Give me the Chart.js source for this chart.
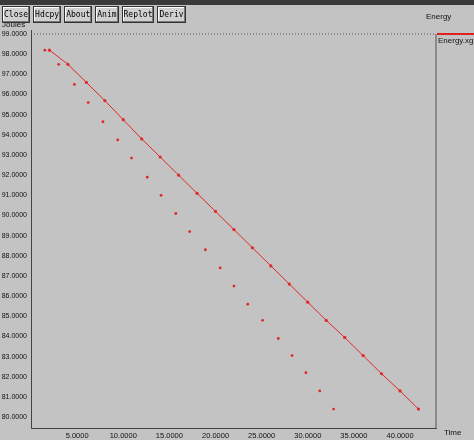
<!DOCTYPE html>
<html><head><meta charset="utf-8">
<script src="https://cdn.jsdelivr.net/npm/chart.js@4"></script>
<style>
body{margin:0;width:474px;height:440px;background:#c3c3c3;overflow:hidden;font-family:"Liberation Sans",sans-serif;position:relative}
#top{position:absolute;left:0;top:0;width:474px;height:5px;background:#3a3a3a}
#btns{position:absolute;left:2px;top:6px;display:flex;gap:3px}
#btns div{border:1px solid #333;background:#d0d0d0;font-size:8px;font-family:"DejaVu Sans Mono",monospace;padding:3px 1px;box-shadow:inset -1px -1px #777,inset 1px 1px #fff}
.t{position:absolute;font-size:8px;color:#111}
#c{position:absolute;left:0;top:0}
</style></head><body>
<canvas id="c" width="474" height="440"></canvas>
<div id="top"></div>
<div class="t" style="left:2px;top:20px">Joules</div>
<div id="btns"><div>Close</div><div>Hdcpy</div><div>About</div><div>Anim</div><div>Replot</div><div>Deriv</div></div>
<div class="t" style="left:426px;top:12px">Energy</div>
<div style="position:absolute;left:437px;top:33px;width:37px;height:2px;background:#e02020"></div>
<div class="t" style="left:438px;top:36px">Energy.xg</div>
<div class="t" style="left:444px;top:428px">Time</div>
<script>
const lineX=[2000,4000,6000,8000,10000,12000,14000,16000,18000,20000,22000,24000,26000,28000,30000,32000,34000,36000,38000,40000,42000];
const lineY=[98.2,97.5,96.6,95.7,94.75,93.8,92.9,92.0,91.1,90.2,89.3,88.4,87.5,86.6,85.7,84.8,83.95,83.05,82.15,81.3,80.4];
const dotX=[1500,3000,4700,6200,7800,9400,10900,12600,14100,15700,17200,18900,20500,22000,23500,25100,26800,28300,29800,31300,32800];
const dotY=[98.2,97.5,96.5,95.6,94.65,93.75,92.85,91.9,91.0,90.1,89.2,88.3,87.4,86.5,85.6,84.8,83.9,83.05,82.2,81.3,80.4];
const xTicks=[5000,10000,15000,20000,25000,30000,35000,40000];
const yTicks=[80,81,82,83,84,85,86,87,88,89,90,91,92,93,94,95,96,97,98,99];
const red='#e02828';
new Chart(document.getElementById('c'),{
 type:'scatter',
 data:{datasets:[
  {data:lineX.map((x,i)=>({x,y:lineY[i]})),showLine:true,borderColor:red,borderWidth:1,pointRadius:1.6,pointBackgroundColor:red,pointBorderWidth:0},
  {data:dotX.map((x,i)=>({x,y:dotY[i]})),showLine:false,pointRadius:1.4,pointBackgroundColor:red,pointBorderWidth:0}
 ]},
 options:{animation:false,responsive:false,
  layout:{padding:{left:0,top:30,right:38,bottom:0}},
  plugins:{legend:{display:false},tooltip:{enabled:false}},
  scales:{
   x:{type:'linear',min:0,max:43900,
     afterBuildTicks:a=>{a.ticks=xTicks.map(v=>({value:v}))},
     afterFit:a=>{a.height=12},
     grid:{display:false,drawTicks:true,tickLength:3,color:'#333'},
     border:{color:'#444'},
     ticks:{color:'#111',font:{size:7.5,family:'Liberation Sans'},padding:0,maxRotation:0,callback:v=>(v/1000).toFixed(4)}},
   y:{min:79.46,max:99.2,
     afterBuildTicks:a=>{a.ticks=yTicks.map(v=>({value:v}))},
     afterFit:a=>{a.width=31},
     grid:{display:false,tickLength:3,color:'#333'},
     border:{color:'#444'},
     ticks:{color:'#111',font:{size:7,family:'Liberation Sans'},padding:1,callback:v=>v.toFixed(4)}}
  }},
 plugins:[{id:'frame',afterDraw(c){const a=c.chartArea,g=c.ctx;g.save();g.strokeStyle='#555';g.setLineDash([1,2]);g.beginPath();g.moveTo(a.left,a.top+4);g.lineTo(a.right,a.top+4);g.stroke();g.setLineDash([]);g.beginPath();g.moveTo(a.right,a.top+4);g.lineTo(a.right,a.bottom);g.stroke();g.restore();}}]
});
</script></body></html>
